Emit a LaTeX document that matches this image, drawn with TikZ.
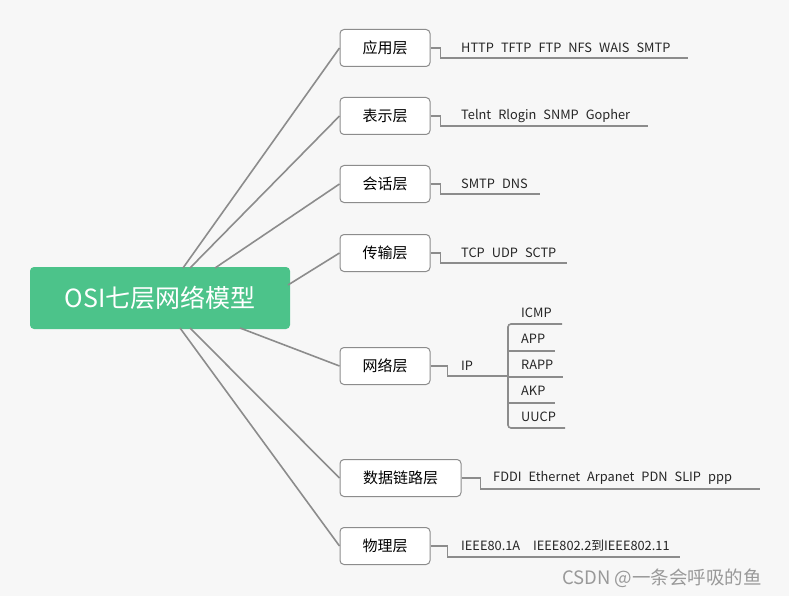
\documentclass[tikz,border=0pt]{standalone}
\usepackage{fontspec}
\setmainfont{Noto Sans CJK SC}
\newcommand{\gp}{\hspace{0.55em}}
\begin{document}
\begin{tikzpicture}[x=1pt,y=-1pt,
  ln/.style={draw=lineg,line width=1.6pt},
  lay/.style={draw=lineg,line width=1pt,rounded corners=4pt,fill=white,minimum height=37pt,inner xsep=0pt,font=\fontsize{15}{17}\selectfont},
  lab/.style={anchor=west,inner sep=0pt,font=\fontsize{12.8}{14}\selectfont,text=black!85}]
\definecolor{lineg}{HTML}{8C8C8C}
\definecolor{rootg}{HTML}{4CC38A}
\fill[white!97!black] (0,0) rectangle (789,596);
\useasboundingbox (0,0) rectangle (789,596);
\node[fill=rootg,rounded corners=4pt,minimum width=260pt,minimum height=62pt,text=white,font=\fontsize{25}{28}\selectfont] (root) at (160,298) {OSI七层网络模型};
\coordinate (s1) at (183,268); \coordinate (s2) at (190,268); \coordinate (s3) at (215,268);
\coordinate (s4) at (288,285); \coordinate (s5) at (240,328); \coordinate (s6) at (190,328); \coordinate (s7) at (180,328);
\node[lay,minimum width=90pt] (a) at (385,48) {应用层};
\node[lay,minimum width=90pt] (b) at (385,116) {表示层};
\node[lay,minimum width=90pt] (c) at (385,184) {会话层};
\node[lay,minimum width=90pt] (d) at (385,253) {传输层};
\node[lay,minimum width=90pt] (e) at (385,366) {网络层};
\node[lay,minimum width=121pt] (f) at (400.5,478) {数据链路层};
\node[lay,minimum width=90pt] (g) at (385,546) {物理层};
\draw[ln] (s1) -- (a.west); \draw[ln] (s2) -- (b.west); \draw[ln] (s3) -- (c.west);
\draw[ln] (s4) -- (d.west); \draw[ln] (s5) -- (e.west); \draw[ln] (s6) -- (f.west); \draw[ln] (s7) -- (g.west);
\coordinate (ae) at (688,58); \draw[ln] (a.east) -- ++(10,0) |- (ae);
\node[lab] (at) at (461,48) {HTTP\gp TFTP\gp FTP\gp NFS\gp WAIS\gp SMTP};
\coordinate (be) at (648,126); \draw[ln] (b.east) -- ++(10,0) |- (be);
\node[lab] (bt) at (461,116) {Telnt\gp Rlogin\gp SNMP\gp Gopher};
\coordinate (ce) at (540,194); \draw[ln] (c.east) -- ++(10,0) |- (ce);
\node[lab] (ct) at (461,184) {SMTP\gp DNS};
\coordinate (de) at (567,263); \draw[ln] (d.east) -- ++(10,0) |- (de);
\node[lab] (dt) at (461,253) {TCP\gp UDP\gp SCTP};
\coordinate (ee) at (508,376); \draw[ln] (e.east) -- ++(17,0) |- (ee);
\node[lab] (et) at (461,366) {IP};
\coordinate (fe) at (760,489); \draw[ln] (f.east) -- ++(19,0) |- (fe);
\node[lab] (ft) at (493,478) {FDDI\gp Ethernet\gp Arpanet\gp PDN\gp SLIP\gp ppp};
\coordinate (ge) at (680,557); \draw[ln] (g.east) -- ++(17,0) |- (ge);
\node[lab] (gt) at (461,546) {IEEE80.1A\hspace{1em}IEEE802.2到IEEE802.11};
\coordinate (p1) at (562,324); \coordinate (p5) at (565,428);
\draw[ln,rounded corners=3pt] (p1) -- (508,324) -- (508,428) -- (p5);
\coordinate (p2) at (555,351); \draw[ln] (508,351) -- (p2);
\coordinate (p3) at (563,377); \draw[ln] (508,377) -- (p3);
\coordinate (p4) at (555,403); \draw[ln] (508,403) -- (p4);
\node[lab] (i1) at (521,313) {ICMP};
\node[lab] (i2) at (521,339) {APP};
\node[lab] (i3) at (521,365) {RAPP};
\node[lab] (i4) at (521,391) {AKP};
\node[lab] (i5) at (521,417) {UUCP};
\node[anchor=west,inner sep=0pt,text=black!40,font=\fontsize{18.5}{20}\selectfont] (wm) at (562,578) {CSDN @一条会呼吸的鱼};
\end{tikzpicture}
\end{document}
